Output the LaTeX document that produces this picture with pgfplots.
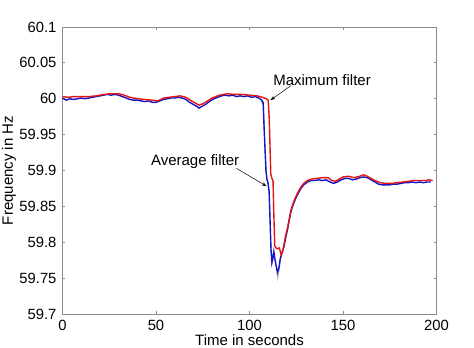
\documentclass[border=0pt]{standalone}
\usepackage{fontspec}
\setmainfont{Liberation Sans}
\usepackage{pgfplots}
\pgfplotsset{compat=1.18}
\usetikzlibrary{arrows.meta}
\definecolor{mred}{RGB}{228,20,20}
\definecolor{mblue}{RGB}{20,20,200}
\definecolor{axgray}{RGB}{140,140,140}
\begin{document}
\fontsize{14.5}{17}\selectfont
\begin{tikzpicture}
\begin{axis}[
  at={(0,0)}, anchor=south west,
  scale only axis, width=374pt, height=287pt,
  xmin=0, xmax=200, ymin=59.7, ymax=60.1,
  xtick={0,50,100,150,200},
  ytick={59.7,59.75,59.8,59.85,59.9,59.95,60,60.05,60.1},
  yticklabels={59.7,59.75,59.8,59.85,59.9,59.95,60,60.05,60.1},
  xticklabels={0,50,100,150,200},
  tick align=inside, major tick length=3pt,
  axis line style={axgray, line width=0.8pt},
  every tick/.style={axgray, line width=0.8pt},
  ticklabel style={font=\fontsize{14.8}{17}\selectfont, text=black},
  xticklabel style={yshift=-1pt},
  yticklabel style={xshift=-1pt},
  xlabel={Time in seconds}, ylabel={Frequency in Hz},
  every axis x label/.style={at={(axis description cs:0.5,0)}, anchor=center, yshift=-26.5pt, font=\fontsize{15}{17}\selectfont},
  every axis y label/.style={at={(axis description cs:0,0.5)}, anchor=center, rotate=90, yshift=53.5pt, font=\fontsize{15}{17}\selectfont},
  clip=false,
]
\addplot[gray!60, line width=0.8pt] coordinates {
(106,59.997) (107.5,59.99) (108.3,59.93) (109.3,59.888) (110.5,59.87) (111.2,59.81) (111.8,59.768) (112.4,59.775) (113,59.786) (113.6,59.776) (114.5,59.76) (115.1,59.749) (115.9,59.762) (116.6,59.776) (117.6,59.785) (118.5,59.795) (120,59.815) (122,59.84)
};
\addplot[mblue, line width=1.4pt] coordinates {
(0,60.001) (2,59.998) (4,60.000) (6,59.999) (8,60.000) (10,60.001) (12,60.000) (14,60.001) (16,60.002) (18,60.003) (20,60.004) (22,60.005) (24,60.006) (26,60.005) (28,60.006) (30,60.005) (32,60.003) (34,60.001) (36,59.999) (38,59.998) (40,59.998) (42,59.997) (44,59.996) (46,59.997) (48,59.995) (50,59.995) (52,59.997) (54,59.999) (56,60.000) (58,60.001) (60,60.001) (62,60.002) (64,60.001) (66,59.999) (68,59.995) (70,59.992) (72,59.989) (73,59.987) (75,59.990) (77,59.993) (79,59.997) (81,60.000) (83,60.002) (85,60.004) (87,60.005) (89,60.004) (91,60.005) (93,60.003) (95,60.004) (97,60.003) (99,60.004) (101,60.002) (103,60.003) (105,60.001) (106.5,59.998) (107.3,59.995) (107.8,59.96) (108.3,59.93) (108.8,59.90) (109.3,59.888) (110.0,59.882) (110.5,59.870) (111.0,59.83) (111.5,59.79) (112.0,59.772) (112.5,59.778) (113.0,59.787) (113.5,59.778) (114.2,59.768) (115.0,59.758) (115.8,59.765) (116.5,59.778) (117.5,59.786) (118.5,59.795) (119.5,59.808) (120.5,59.82) (122,59.841) (123,59.850) (124.5,59.860) (126,59.868) (127.5,59.875) (129,59.880) (131,59.884) (133,59.886) (135,59.886) (137,59.887) (139,59.886) (141,59.887) (143,59.884) (145,59.882) (147,59.884) (149,59.887) (151,59.889) (153,59.889) (155,59.887) (157,59.888) (159,59.890) (161,59.891) (163,59.890) (165,59.887) (167,59.884) (169,59.881) (171,59.880) (173,59.880) (175,59.880) (177,59.881) (179,59.881) (181,59.882) (183,59.883) (185,59.883) (187,59.884) (189,59.883) (191,59.884) (193,59.883) (195,59.884) (197,59.884)
};
\addplot[mred, line width=1.4pt] coordinates {
(0,60.003) (3,60.002) (6,60.003) (10,60.003) (14,60.003) (18,60.004) (22,60.006) (26,60.007) (30,60.007) (33,60.005) (36,60.002) (40,60.000) (44,59.999) (48,59.998) (51,59.997) (54,60.001) (57,60.002) (60,60.003) (63,60.004) (66,60.002) (69,59.997) (71,59.994) (73,59.991) (75,59.993) (77,59.996) (80,60.001) (84,60.005) (88,60.007) (92,60.006) (96,60.006) (100,60.005) (104,60.004) (107,60.002) (109,60.000) (110,59.998) (110.6,59.97) (111.0,59.93) (111.4,59.895) (112.0,59.889) (112.6,59.885) (113.0,59.84) (113.5,59.795) (114.5,59.791) (116,59.792) (117,59.782) (118,59.79) (119,59.805) (120.5,59.822) (122,59.843) (123,59.852) (124.5,59.862) (126,59.870) (127.5,59.877) (129,59.882) (131,59.886) (133,59.888) (136,59.889) (139,59.890) (142,59.890) (144,59.886) (146,59.885) (148,59.888) (150,59.891) (153,59.892) (156,59.890) (159,59.892) (161,59.894) (163,59.892) (165,59.889) (167,59.886) (170,59.883) (173,59.882) (176,59.882) (179,59.883) (182,59.884) (185,59.885) (188,59.886) (191,59.886) (194,59.886) (196,59.887) (198,59.886)
};
\node[font=\fontsize{15}{17}\selectfont, anchor=center] at (axis cs:138.8,60.026) {Maximum filter};
\draw[-{Stealth[length=5pt,width=3.5pt]}, line width=0.5pt] (axis cs:122,60.018) -- (axis cs:111.2,59.998);
\node[font=\fontsize{15}{17}\selectfont, anchor=center] at (axis cs:70.9,59.913) {Average filter};
\draw[-{Stealth[length=5pt,width=3.5pt]}, line width=0.5pt] (axis cs:93,59.903) -- (axis cs:109.2,59.878);
\end{axis}
\pgfresetboundingbox
\useasboundingbox (-62.5pt,-34pt) rectangle (411.5pt,314pt);
\end{tikzpicture}
\end{document}
